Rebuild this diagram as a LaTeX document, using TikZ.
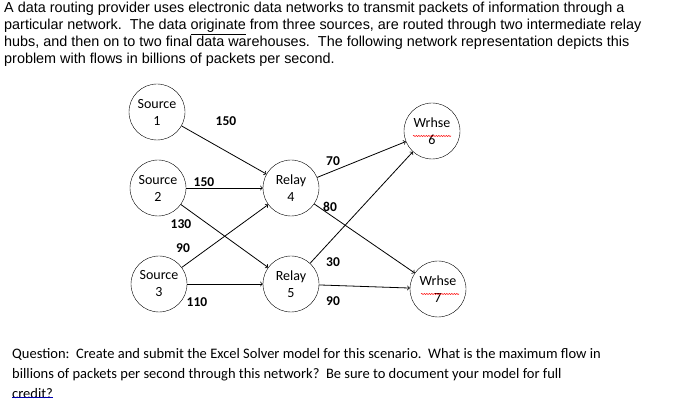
\documentclass[tikz,border=0pt]{standalone}
\usepackage{fontspec}
\setmainfont{Liberation Sans}
\newfontfamily\calfont{Carlito}
\usetikzlibrary{decorations.pathmorphing}
\begin{document}
\begin{tikzpicture}[x=1pt,y=-1pt,
  nd/.style={circle,draw,minimum size=56pt,inner sep=0pt,align=center,font=\calfont\fontsize{14}{17}\selectfont},
  ed/.style={->,>=to,line width=0.8pt},
  lb/.style={font=\calfont\bfseries\fontsize{13.5}{13.5}\selectfont,inner sep=0pt},
  para/.style={anchor=base west,inner sep=0pt,font=\fontsize{14.4}{14.4}\selectfont},
  q/.style={anchor=base west,inner sep=0pt,font=\calfont\fontsize{14.5}{14.5}\selectfont}]
\useasboundingbox (0,0) rectangle (683,411);
\node[para] (t1) at (4,13) {A data routing provider uses electronic data networks to transmit packets of information through a};
\node[para] (t2) at (4,30) {particular network.\ \ The data \underline{originate} from three sources, are routed through two intermediate relay};
\node[para] (t3) at (4,47) {hubs, and then on to two final data warehouses.\ \ The following network representation depicts this};
\node[para] (t4) at (4,64) {problem with flows in billions of packets per second.};
\node[nd] (s1) at (157,112) {Source\\1};
\node[nd] (s2) at (158,188) {Source\\2};
\node[nd] (s3) at (159,284) {Source\\3};
\node[nd] (r4) at (291,188) {Relay\\4};
\node[nd] (r5) at (291,284) {Relay\\5};
\node[nd] (w6) at (432,131) {Wrhse\\6};
\node[nd] (w7) at (438,289) {Wrhse\\7};
\draw[red,line width=0.5pt,decorate,decoration={snake,amplitude=0.6pt,segment length=2.5pt}] ([xshift=-19pt,yshift=-5pt]w6.center) -- ([xshift=19pt,yshift=-5pt]w6.center);
\draw[red,line width=0.5pt,decorate,decoration={snake,amplitude=0.6pt,segment length=2.5pt}] ([xshift=-17pt,yshift=-5pt]w7.center) -- ([xshift=21pt,yshift=-5pt]w7.center);
\draw[ed] (s1) -- (r4);
\draw[ed] (s2.east) -- (r4.west);
\draw[ed] (s2) -- (r5);
\draw[ed] (s3) -- (r4);
\draw[ed] (s3.east) -- (r5.west);
\draw[ed] (r4) -- (w6);
\draw[ed] (r4) -- (w7);
\draw[ed] (r5) -- (w6);
\draw[ed] (r5) -- (w7);
\node[lb] at (226,121) {150};
\node[lb] at (204,182) {150};
\node[lb] at (181,224) {130};
\node[lb] at (183,248) {90};
\node[lb] at (197,302) {110};
\node[lb] at (333,161) {70};
\node[lb] at (330,207) {80};
\node[lb] at (333,262) {30};
\node[lb] at (333,301) {90};
\node[q] (q1) at (12,359) {Question:\ \ Create and submit the Excel Solver model for this scenario.\ \ What is the maximum flow in};
\node[q] (q2) at (12,379) {billions of packets per second through this network?\ \ Be sure to document your model for full};
\node[q] (q3) at (12,399) {credit?};
\draw[blue!70!black,line width=0.6pt] ([yshift=2pt]q3.base west) -- ([yshift=2pt]q3.base east);
\end{tikzpicture}
\end{document}
